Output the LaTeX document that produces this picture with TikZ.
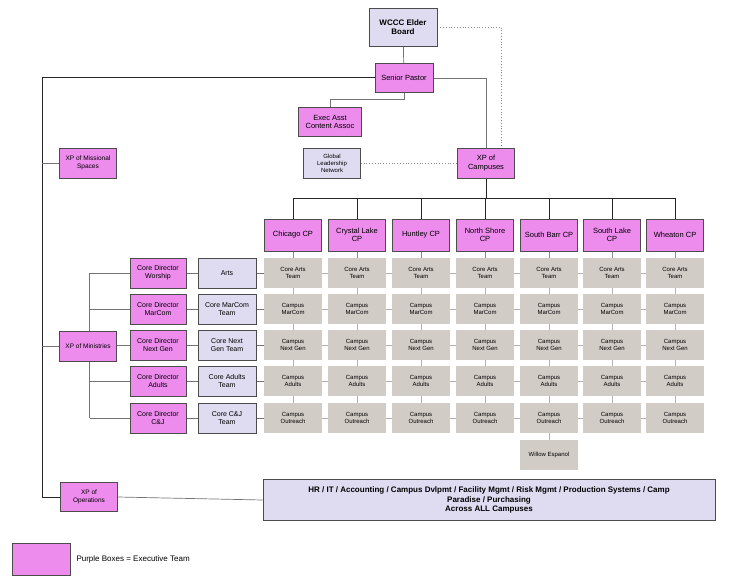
\documentclass[tikz,border=0pt]{standalone}
\usepackage{fontspec}
\setmainfont{Liberation Sans}
\usetikzlibrary{backgrounds}
\begin{document}
\begin{tikzpicture}[x=1pt,y=-1pt,
  base/.style={draw=black!70,line width=0.6pt,align=center,inner sep=1pt},
  purp/.style={base,fill=violet!30!magenta!45,font=\fontsize{7.5}{8.5}\selectfont},
  blue/.style={base,fill=cyan!12!blue!12,font=\fontsize{7.5}{8.5}\selectfont},
  camp/.style={base,fill=brown!25!gray!40,draw=brown!20!gray!40,minimum width=57pt,minimum height=29pt,font=\fontsize{6}{7}\selectfont},
  ln/.style={draw=black!55,line width=0.7pt},
  dk/.style={draw=black!85,line width=1pt},
  dot/.style={draw=black!45,dotted,line width=0.8pt}]
\useasboundingbox (0,0) rectangle (730,580);
\node[blue,minimum width=68pt,minimum height=38pt,font=\bfseries\fontsize{8}{9.5}\selectfont] (eb) at (403,27) {WCCC Elder\\Board};
\node[purp,minimum width=58pt,minimum height=29pt] (sp) at (404,78) {Senior Pastor};
\node[purp,minimum width=63pt,minimum height=29pt] (ea) at (330,122) {Exec Asst\\Content Assoc};
\node[blue,minimum width=57pt,minimum height=30pt,font=\fontsize{6}{7}\selectfont] (gl) at (332,163) {Global\\Leadership\\Network};
\node[purp,minimum width=57pt,minimum height=30pt] (xc) at (486,163) {XP of\\Campuses};
\node[purp,minimum width=57pt,minimum height=30pt,font=\fontsize{6.5}{7.5}\selectfont] (xm) at (88,163) {XP of Missional\\Spaces};
\node[purp,minimum width=57pt,minimum height=30pt,font=\fontsize{6.5}{7.5}\selectfont] (xmin) at (88,346) {XP of Ministries};
\node[purp,minimum width=57pt,minimum height=29pt,font=\fontsize{6.5}{7.5}\selectfont] (xo) at (89,497) {XP of\\Operations};
\node[blue,minimum width=452pt,minimum height=41pt,font=\bfseries\fontsize{8}{9.5}\selectfont] (hr) at (489,500) {HR / IT / Accounting / Campus Dvlpmt / Facility Mgmt / Risk Mgmt / Production Systems / Camp\\Paradise / Purchasing\\Across ALL Campuses};
\node[purp,minimum width=58pt,minimum height=32pt] (lg) at (41,559) {};
\node[anchor=west,font=\fontsize{8}{9}\selectfont] (lgt) at (73,559) {Purple Boxes = Executive Team};
\foreach \n/\t [count=\i] in {293/Chicago CP,357/Crystal Lake\\CP,421/Huntley CP,485/North Shore\\CP,549/South Barr CP,612/South Lake\\CP,675/Wheaton CP}{
  \node[purp,minimum width=57pt,minimum height=32pt,font=\fontsize{7.5}{8.5}\selectfont] (cp\i) at (\n,235) {\t};
}
\foreach \y/\d/\tm/\c [count=\r] in {273/Core Director\\Worship/Arts/Core Arts\\Team/Campus\\Arts,
  309/Core Director\\MarCom/Core MarCom\\Team/Campus\\MarCom,
  345/Core Director\\Next Gen/Core Next\\Gen Team/Campus\\Next Gen,
  381/Core Director\\Adults/Core Adults\\Team/Campus\\Adults,
  418/Core Director\\C\&J/Core C\&J\\Team/Campus\\Outreach}{
  \node[purp,minimum width=56pt,minimum height=30pt,font=\fontsize{7}{8}\selectfont] (d\r) at (158,\y) {\d};
  \node[blue,minimum width=58pt,minimum height=30pt,font=\fontsize{7}{8}\selectfont] (t\r) at (227,\y) {\tm};
  \foreach \n [count=\i] in {293,357,421,485,549,612,675}{
    \node[camp] (c\r-\i) at (\n,\y) {\c};
  }
}
\node[camp] (we) at (549,455) {Willow Espanol};
\begin{scope}[on background layer]
\coordinate (top) at (42,78);
\coordinate (bot) at (42,497);
\draw[dk] (sp.west) -- (top) -- (bot) -- (xo.west);
\draw[ln] (xm.west) -- (xm.west -| top);
\draw[ln] (xmin.west) -- (xmin.west -| top);
\draw[ln] (xo.east) -- (hr.west);
\draw[ln] (eb) -- (sp);
\draw[ln] (sp.south) -- ++(0,7) -| (ea.north);
\draw[ln] (sp.east) -| (xc.north);
\draw[dot] (eb.east) -| ([xshift=15pt]xc.north);
\draw[dot] (gl.east) -- (xc.west);
\coordinate (bus) at (486,198);
\draw[dk] (xc.south) -- (bus);
\draw[dk] (cp1.north |- bus) -- (cp7.north |- bus);
\foreach \i in {1,...,7}{\draw[dk] (cp\i.north |- bus) -- (cp\i.north);}
\foreach \r in {1,...,5}{
  \draw[ln] (d\r.west) -- ++(-40pt,0);
  \draw[ln] (d\r) -- (t\r);
  \draw[ln] (t\r) -- (c\r-1);
  \foreach \i [evaluate=\i as \j using int(\i+1)] in {1,...,6}{\draw[draw=black!30] (c\r-\i) -- (c\r-\j);}
}
\draw[ln] ([xshift=-40pt]d1.west) -- ([xshift=-40pt]d5.west);
\foreach \i in {1,...,7}{
  \draw[draw=black!45] (cp\i) -- (c1-\i);
  \foreach \r [evaluate=\r as \s using int(\r+1)] in {1,...,4}{\draw[draw=black!30] (c\r-\i) -- (c\s-\i);}
}
\draw[draw=black!30] (c5-5) -- (we);
\end{scope}
\end{tikzpicture}
\end{document}
